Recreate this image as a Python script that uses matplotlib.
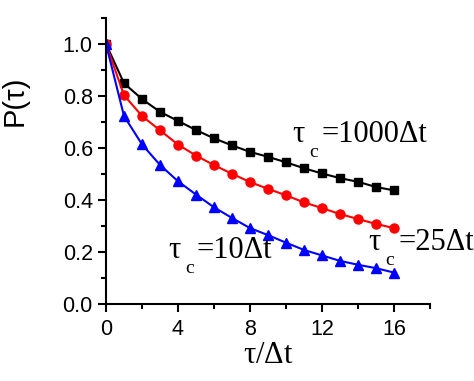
import numpy as np
import matplotlib
matplotlib.use('Agg')
import matplotlib.pyplot as plt
from matplotlib.ticker import MultipleLocator, FormatStrFormatter

plt.rcParams.update({
    'font.family': 'Liberation Sans',
    'mathtext.fontset': 'custom',
    'mathtext.rm': 'Liberation Serif',
    'mathtext.it': 'Liberation Serif:italic',
})

# ── data ──
tau = list(range(17))
p_1000 = [1.0, 0.849, 0.788, 0.739, 0.704, 0.669, 0.637, 0.610, 0.585,
          0.566, 0.545, 0.522, 0.502, 0.484, 0.470, 0.450, 0.437]
p_25 = [1.0, 0.803, 0.723, 0.668, 0.613, 0.571, 0.534, 0.501, 0.469,
        0.443, 0.418, 0.391, 0.369, 0.346, 0.327, 0.308, 0.292]
p_10 = [1.0, 0.723, 0.614, 0.535, 0.472, 0.421, 0.372, 0.331, 0.292,
        0.265, 0.236, 0.208, 0.187, 0.166, 0.151, 0.138, 0.121]

fig = plt.figure(figsize=(4.74, 3.81), dpi=100)
ax = fig.add_axes([0.2236, 0.202, 0.907 - 0.2236, 0.953 - 0.202])

ax.plot(tau, p_1000, color='black', lw=1.5, marker='s', ms=5.5)
ax.plot(tau, p_25, color='#FF0000', lw=1.5, marker='o', ms=6.5)
ax.plot(tau, p_10, color='#0000FF', lw=1.5, marker='^', ms=7.5)

ax.set_xlim(0, 18)
ax.set_ylim(0, 1.1)
ax.xaxis.set_major_locator(MultipleLocator(4))
ax.xaxis.set_minor_locator(MultipleLocator(2))
ax.yaxis.set_major_locator(MultipleLocator(0.2))
ax.yaxis.set_minor_locator(MultipleLocator(0.1))
ax.yaxis.set_major_formatter(FormatStrFormatter('%.1f'))
ax.spines['top'].set_visible(False)
ax.spines['right'].set_visible(False)
for s in ('left', 'bottom'):
    ax.spines[s].set_linewidth(1.5)
ax.tick_params(which='major', direction='out', length=6, width=1.5, labelsize=15.5)
ax.tick_params(which='minor', direction='out', length=3.5, width=1.5)
ax.tick_params(axis='x', pad=5)

ax.set_xlabel(r'$\mathrm{\tau/\Delta t}$', fontsize=22, labelpad=0)
ax.set_ylabel('P(τ)', fontsize=21)
ax.yaxis.set_label_coords(-0.24, 0.71)


def tau_label(x, y, rest, eq_dx=30):
    kw = dict(xycoords='data', textcoords='offset pixels', family='Liberation Serif',
              va='baseline', ha='left', annotation_clip=False)
    ax.annotate('τ', (x, y), xytext=(0, 0), fontsize=22, **kw)
    ax.annotate('c', (x, y), xytext=(17, -15), fontsize=14, **kw)
    ax.annotate('=' + rest, (x, y), xytext=(eq_dx, 0), fontsize=22, **kw)


tau_label(10.33, 0.622, '1000Δt')
tau_label(14.6, 0.208, '25Δt')
tau_label(3.44, 0.178, '10Δt', eq_dx=29)

fig.savefig('out.png', dpi=100)
